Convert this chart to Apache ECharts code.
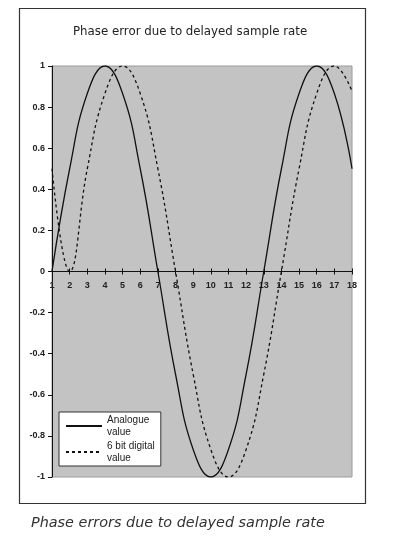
<!DOCTYPE html>
<html>
<head>
<meta charset="utf-8">
<script src="https://cdn.jsdelivr.net/npm/echarts@6/dist/echarts.min.js"></script>
<style>
html,body{margin:0;padding:0;background:#fff;}
#c{width:395px;height:557px;}
</style>
</head>
<body>
<div id="c"></div>
<script>
var samples = [1,2,3,4,5,6,7,8,9,10,11,12,13,14,15,16,17,18];
var analogue = [0,0.5,0.866,1,0.866,0.5,0,-0.5,-0.866,-1,-0.866,-0.5,0,0.5,0.866,1,0.866,0.5];
var digital = [0.5,0,0.5,0.866,1,0.866,0.5,0,-0.5,-0.866,-1,-0.866,-0.5,0,0.5,0.866,1,0.878];
var seriesNames = ['Analogue value','6 bit digital value'];
var titleText = 'Phase error due to delayed sample rate';
var captionText = 'Phase errors due to delayed sample rate';

function pairs(xs, ys){ return xs.map(function(x,i){ return [x, ys[i]]; }); }

var gridTop = 66, gridBottom = 80, H = 557;
var zeroOffset = -(H - gridTop - gridBottom) / 2;

var chart = echarts.init(document.getElementById('c'), null, {renderer:'canvas'});
var axisFont = {fontFamily:'Liberation Sans, Arial, sans-serif', color:'#222'};
chart.setOption({
  animation:false,
  backgroundColor:'#fff',
  title:{
    text:titleText, left:73, top:26, padding:0,
    textStyle:{fontFamily:'DejaVu Sans, sans-serif', fontSize:11.8, fontWeight:'normal', color:'#222'}
  },
  graphic:[
    {type:'rect', shape:{x:19.5,y:8.5,width:346,height:495}, style:{fill:null, stroke:'#333', lineWidth:1.2}, z:-1},
    {type:'text', left:31, top:516, style:{text:captionText, font:'italic 14.4px DejaVu Sans, sans-serif', fill:'#333'}}
  ],
  grid:{left:52, top:gridTop, right:43, bottom:gridBottom, show:true, backgroundColor:'#c3c3c3', borderColor:'#9a9a9a', borderWidth:1},
  legend:{
    orient:'vertical', left:59, top:412, width:96,
    backgroundColor:'#fff', borderColor:'#333', borderWidth:1, padding:[2,6,2,6],
    itemWidth:36, itemHeight:8, itemGap:2,
    data:seriesNames,
    itemStyle:{opacity:0},
    formatter:function(n){ return n.replace(/ value$/, '\nvalue'); },
    textStyle:{fontFamily:'Liberation Sans, Arial, sans-serif', fontSize:10, color:'#222', lineHeight:12}
  },
  xAxis:[{
    type:'value', min:1, max:18, interval:1, position:'bottom', offset:zeroOffset,
    axisLine:{onZero:false, lineStyle:{color:'#111', width:1}},
    axisTick:{show:true, length:3, lineStyle:{color:'#111'}},
    axisLabel:Object.assign({margin:10, fontSize:9, fontWeight:'bold'}, axisFont),
    splitLine:{show:false}
  },{
    type:'value', min:1, max:18, interval:1, position:'bottom', offset:zeroOffset,
    axisLine:{onZero:false, lineStyle:{color:'#111'}},
    axisTick:{show:true, inside:true, length:3, lineStyle:{color:'#111'}},
    axisLabel:{show:false}, splitLine:{show:false}
  }],
  yAxis:{
    type:'value', min:-1, max:1, interval:0.2,
    axisLine:{show:true, onZero:false, lineStyle:{color:'#111'}},
    axisTick:{show:true, length:4, lineStyle:{color:'#111'}},
    axisLabel:Object.assign({margin:7, fontSize:9, fontWeight:'bold', formatter:function(v){ return (Math.round(v*10)/10).toString(); }}, axisFont),
    splitLine:{show:false}
  },
  series:[{
    name:seriesNames[0], type:'line', data:pairs(samples, analogue), smooth:0.45,
    symbol:'none', lineStyle:{color:'#111', width:1.3}, itemStyle:{color:'#111'}
  },{
    name:seriesNames[1], type:'line', data:pairs(samples, digital), smooth:0.45,
    symbol:'none', lineStyle:{color:'#111', width:1.3, type:[3,3]}, itemStyle:{color:'#111'}
  }]
});
</script>
</body>
</html>
